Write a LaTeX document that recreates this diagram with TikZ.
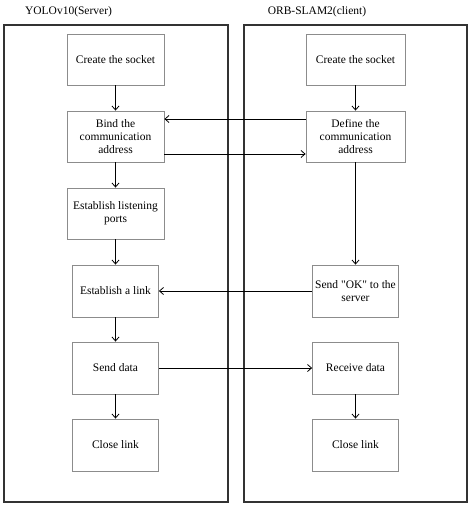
\documentclass[tikz,border=0pt]{standalone}
\usepackage{fontspec}
\setmainfont{Liberation Serif}
\usetikzlibrary{arrows.meta}
\begin{document}
\begin{tikzpicture}[x=1pt,y=-1pt,
  every node/.style={font=\fontsize{11.5}{13}\selectfont, inner sep=1pt},
  stepbox/.style={draw=black!45, line width=0.8pt, align=center, minimum width=#1, minimum height=51pt},
  stepbox/.default=86pt,
  lane/.style={draw=black!80, line width=1.2pt},
  arr/.style={-{Straight Barb[length=4pt,width=7pt]}, line width=0.8pt, black}]
\useasboundingbox (0,0) rectangle (474,510);
% lanes
\node[lane, minimum width=224pt, minimum height=477pt] (serverlane) at (116,263.5) {};
\node[lane, minimum width=223pt, minimum height=477pt] (clientlane) at (355.5,263.5) {};
\node (servertitle) at (68.5,12) {YOLOv10(Server)};
\node (clienttitle) at (317,12) {ORB-SLAM2(client)};
% server
\node[stepbox=97pt] (s1) at (115.5,59.5) {Create the socket};
\node[stepbox=97pt] (s2) at (115.5,136.5) {Bind the\\communication\\address};
\node[stepbox=97pt] (s3) at (115.5,213.5) {Establish listening\\ports};
\node[stepbox, minimum height=52pt] (s4) at (115.5,291) {Establish a link};
\node[stepbox, minimum height=52pt] (s5) at (115.5,368) {Send data};
\node[stepbox, minimum height=52pt] (s6) at (115.5,445) {Close link};
% client
\node[stepbox=99pt] (c1) at (355.5,59.5) {Create the socket};
\node[stepbox=99pt] (c2) at (355.5,136.5) {Define the\\communication\\address};
\node[stepbox, minimum height=52pt] (c3) at (355.5,291) {Send \textquotedbl OK\textquotedbl\ to the\\server};
\node[stepbox, minimum height=52pt] (c4) at (355.5,368) {Receive data};
\node[stepbox, minimum height=52pt] (c5) at (355.5,445) {Close link};
% vertical arrows
\draw[arr] (s1) -- (s2);
\draw[arr] (s2) -- (s3);
\draw[arr] (s3) -- (s4);
\draw[arr] (s4) -- (s5);
\draw[arr] (s5) -- (s6);
\draw[arr] (c1) -- (c2);
\draw[arr] (c2) -- (c3);
\draw[arr] (c4) -- (c5);
% horizontal arrows
\draw[arr] ([yshift=17.5pt]c2.west) -- ([yshift=17.5pt]s2.east);
\draw[arr] ([yshift=-17.5pt]s2.east) -- ([yshift=-17.5pt]c2.west);
\draw[arr] (c3) -- (s4);
\draw[arr] (s5) -- (c4);
\end{tikzpicture}
\end{document}
